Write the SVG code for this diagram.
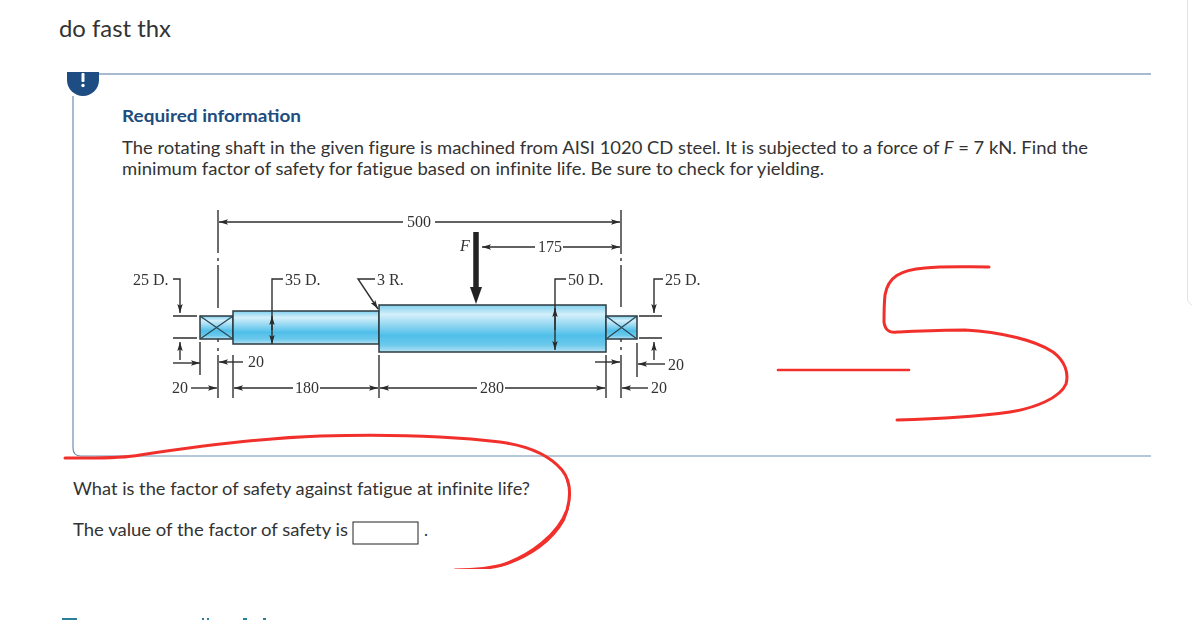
<svg xmlns="http://www.w3.org/2000/svg" width="1192" height="620" viewBox="0 0 1192 620">
<defs>
<linearGradient id="sh" x1="0" y1="0" x2="0" y2="1">
<stop offset="0" stop-color="#7fd0ee"/><stop offset=".2" stop-color="#d4effa"/><stop offset=".65" stop-color="#4fbfe9"/><stop offset=".85" stop-color="#6cc9ec"/><stop offset="1" stop-color="#b4e2f4"/>
</linearGradient>
<marker id="a" viewBox="0 0 10 6" refX="10" refY="3" markerWidth="10" markerHeight="5.4" orient="auto-start-reverse" markerUnits="userSpaceOnUse"><path d="M0 0L10 3L0 6L2 3z" fill="#2a2a2a"/></marker>
<filter id="b" x="-2%" y="-2%" width="104%" height="104%"><feGaussianBlur stdDeviation="0.45"/></filter>
<clipPath id="c"><rect x="0" y="0" width="1192" height="569"/></clipPath>
</defs>
<style>
.s{font-family:Lato,"Open Sans",sans-serif;fill:#333;font-variant-ligatures:none}
.t{font-family:"Liberation Serif",serif;font-size:16px;fill:#333}
.d{stroke:#2e2e2e;stroke-width:1.4;fill:none}
.ar{marker-end:url(#a)}
.sh{fill:url(#sh);stroke:#2c3a40;stroke-width:1.5}
.x{stroke:#2c4a58;stroke-width:1.3;fill:none}
.r{fill:none;stroke:#f1302c;stroke-linecap:round;stroke-linejoin:round}
</style>
<rect width="1192" height="620" fill="#fff"/>
<text class="s" x="59" y="37" font-size="23" textLength="112" lengthAdjust="spacingAndGlyphs">do fast thx</text>
<g id="panel">
<path d="M99 74H1151" stroke="#8aa3bf" stroke-width="1.4" fill="none"/>
<path d="M73 96V448Q73 456 81 456H1151" stroke="#6f8fb2" stroke-width="1.2" fill="none"/>
<path d="M67 72H99V80A16 16 0 0 1 67 80Z" fill="#1d4d82"/>
<rect x="81.500" y="73" width="3" height="9" rx="1" fill="#fff"/>
<circle cx="83" cy="85.500" r="1.700" fill="#fff"/>
</g>
<text x="122" y="122" font-family="Lato,sans-serif" font-size="17" font-weight="700" fill="#1d4d7e" textLength="179" lengthAdjust="spacingAndGlyphs">Required information</text>
<text class="s" x="122" y="154" font-size="17.500" textLength="966" lengthAdjust="spacingAndGlyphs">The rotating shaft in the given figure is machined from AISI 1020 CD steel. It is subjected to a force of <tspan font-style="italic">F</tspan> = 7 kN. Find the</text>
<text class="s" x="122" y="175" font-size="17.500" textLength="702" lengthAdjust="spacingAndGlyphs">minimum factor of safety for fatigue based on infinite life. Be sure to check for yielding.</text>
<g filter="url(#b)">
<g id="shaft">
<rect class="sh" x="200" y="316" width="33" height="23"/>
<path class="x" d="M200 316L233 339M200 339L233 316"/>
<rect class="sh" x="233" y="311" width="146" height="33"/>
<rect class="sh" x="379" y="305" width="227" height="47"/>
<rect class="sh" x="606" y="316" width="31" height="23"/>
<path class="x" d="M606 316L637 339M606 339L637 316"/>
</g>
<g id="connectors">
<path class="d" d="M218 210V253M218 258V261M218 265V308M218 339V342M218 348V351M218 355V398"/>
<path class="d" d="M621 210V254M621 258V261M621 265V307M621 339V342M621 347V350M621 355V398"/>
<path class="d ar" d="M403 222H219"/><path class="d ar" d="M435 222H620"/>
<path class="d ar" d="M535 247H482"/><path class="d ar" d="M563 247H620"/>
<path class="d ar" d="M173 279H180V313"/>
<path class="d" d="M173 316H197M173 338H197M200 342V375"/>
<path class="d ar" d="M180 360V342"/><path class="d ar" d="M173 363H200"/>
<path class="d ar" d="M191 388H217"/>
<path class="d ar" d="M243 362H219"/><path class="d" d="M233 355V398"/>
<path class="d ar" d="M293 388H234"/><path class="d ar" d="M320 388H378"/><path class="d" d="M379 355V398"/>
<path class="d ar" d="M283 279H272V344"/><path class="d ar" d="M272 330V316"/>
<path class="d ar" d="M375 279H358L378 309"/>
<path class="d ar" d="M505 388H605"/><path class="d ar" d="M477 388H380"/>
<path class="d" d="M606 355V398"/>
<path class="d ar" d="M566 279H555V350"/><path class="d ar" d="M555 330V308"/>
<path class="d ar" d="M663 279H654V313"/>
<path class="d ar" d="M595 362H620"/>
<path class="d" d="M639 316H662M639 338H662M637 343V377"/>
<path class="d ar" d="M654 360V342"/><path class="d ar" d="M665 364H638"/>
<path class="d ar" d="M648 388H622"/>
<path d="M476 232V288" stroke="#222" stroke-width="5.500" fill="none"/><path d="M470 287H482L476 304Z" fill="#222"/>
</g>
<g id="labels">
<text class="t" x="133" y="285">25 D.</text><text class="t" x="285" y="285">35 D.</text><text class="t" x="377" y="285">3 R.</text><text class="t" x="568" y="285">50 D.</text><text class="t" x="665" y="285">25 D.</text>
<text class="t" x="407" y="227">500</text>
<text class="t" x="538" y="252">175</text>
<text class="t" x="460" y="251" font-style="italic">F</text>
<text class="t" x="248" y="367">20</text><text class="t" x="172" y="393">20</text><text class="t" x="295" y="393">180</text><text class="t" x="480" y="393">280</text><text class="t" x="668" y="370">20</text><text class="t" x="651" y="393">20</text>
</g>
</g>
<text class="s" x="73" y="495" font-size="17" textLength="457" lengthAdjust="spacingAndGlyphs">What is the factor of safety against fatigue at infinite life?</text>
<text class="s" x="73" y="536" font-size="17" textLength="275" lengthAdjust="spacingAndGlyphs">The value of the factor of safety is</text>
<rect x="353" y="522" width="65" height="22" fill="#fff" stroke="#222" stroke-width="1"/>
<text class="s" x="424" y="536" font-size="17">.</text>
<path d="M1192 305Q1187.500 303 1187.500 298V0" stroke="#e3e3e3" fill="none"/>
<g id="clipped" fill="#2a7f9c">
<rect x="62" y="618" width="15" height="2"/><rect x="202" y="618" width="2" height="2"/><rect x="207" y="618" width="2" height="2"/><rect x="243" y="618" width="4" height="2"/><rect x="263" y="618" width="3" height="2"/>
</g>
<g id="annotations">
<path class="r" clip-path="url(#c)" stroke-width="3" d="M65 458C85 458 120 459 140 455C200 446 260 438 320 436C390 434 450 436 500 442C530 446 550 456 562 470C570 480 572 492 567 510C558 535 530 555 505 564C490 569 470 570 455 570"/>
<path class="r" clip-path="url(#c)" stroke-width="2" d="M567 480C572 492 570 505 564 520C553 540 530 558 500 566"/>
<path class="r" stroke-width="3" d="M989 267C965 267 945 266 925 268C900 270 888 277 885 295C884 305 884 315 884 322C885 330 889 333 897 332C920 331 940 330 965 330C1000 332 1035 340 1053 352C1065 361 1069 373 1066 384C1060 398 1035 408 1010 412C975 417 935 419 897 420"/>
<path class="r" stroke-width="2.600" d="M778 370H909"/>
</g>
</svg>
